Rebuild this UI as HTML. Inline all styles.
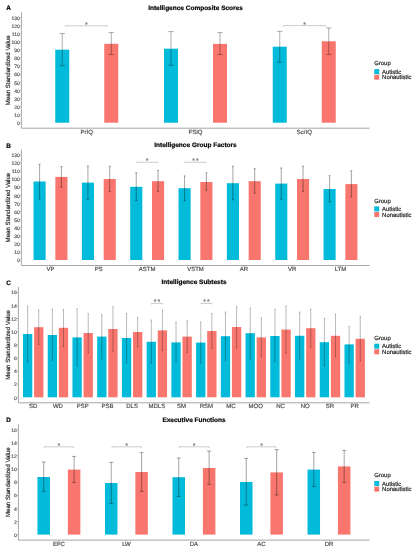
<!DOCTYPE html><html><head><meta charset="utf-8"><style>html,body{margin:0;padding:0;background:#fff;}svg{display:block;will-change:transform;}</style></head><body>
<svg width="414" height="550" viewBox="0 0 414 550" text-rendering="geometricPrecision" font-family='"Liberation Sans", sans-serif'>
<style>text{stroke-width:0.18px;}</style>
<rect width="414" height="550" fill="#fff"/>
<rect x="55.25" y="49.7" width="14" height="73" fill="#02BADA"/>
<rect x="104.25" y="43.8" width="14" height="78.9" fill="#F8766D"/>
<rect x="164" y="48.7" width="14" height="74" fill="#02BADA"/>
<rect x="213" y="43.9" width="14" height="78.8" fill="#F8766D"/>
<rect x="272.75" y="46.7" width="14" height="76" fill="#02BADA"/>
<rect x="321.75" y="41.3" width="14" height="81.4" fill="#F8766D"/>
<path d="M62.25 33.6V65.7M59.55 33.6H64.95M59.55 65.7H64.95" stroke="#000" stroke-opacity="0.4" stroke-width="0.8" fill="none"/>
<path d="M111.25 32.6V54.5M108.55 32.6H113.95M108.55 54.5H113.95" stroke="#000" stroke-opacity="0.4" stroke-width="0.8" fill="none"/>
<path d="M171 31.6V65.3M168.3 31.6H173.7M168.3 65.3H173.7" stroke="#000" stroke-opacity="0.4" stroke-width="0.8" fill="none"/>
<path d="M220 32.6V54.5M217.3 32.6H222.7M217.3 54.5H222.7" stroke="#000" stroke-opacity="0.4" stroke-width="0.8" fill="none"/>
<path d="M279.75 31.3V62.2M277.05 31.3H282.45M277.05 62.2H282.45" stroke="#000" stroke-opacity="0.4" stroke-width="0.8" fill="none"/>
<path d="M328.75 28V54.4M326.05 28H331.45M326.05 54.4H331.45" stroke="#000" stroke-opacity="0.4" stroke-width="0.8" fill="none"/>
<path d="M65.3 26.9V25.8H107.2V26.9" stroke="#a8a8a8" stroke-width="0.6" fill="none"/>
<text x="86.25" y="26.79" font-size="7" fill="#808080" stroke="#808080" text-anchor="middle" letter-spacing="0">*</text>
<path d="M283.3 26.7V25.6H325.8V26.7" stroke="#a8a8a8" stroke-width="0.6" fill="none"/>
<text x="304.55" y="26.59" font-size="7" fill="#808080" stroke="#808080" text-anchor="middle" letter-spacing="0">*</text>
<path d="M21.4 12.3V128.2H369.6" stroke="#A6A6A6" stroke-width="1" fill="none"/>
<path d="M19.6 122.8H21.4" stroke="#A6A6A6" stroke-width="0.6"/>
<text x="19.8" y="125" font-size="5" fill="#5a5a5a" stroke="#5a5a5a" stroke-width="0.08" text-anchor="end">0</text>
<path d="M19.6 114.71H21.4" stroke="#A6A6A6" stroke-width="0.6"/>
<text x="19.8" y="116.91" font-size="5" fill="#5a5a5a" stroke="#5a5a5a" stroke-width="0.08" text-anchor="end">10</text>
<path d="M19.6 106.62H21.4" stroke="#A6A6A6" stroke-width="0.6"/>
<text x="19.8" y="108.82" font-size="5" fill="#5a5a5a" stroke="#5a5a5a" stroke-width="0.08" text-anchor="end">20</text>
<path d="M19.6 98.52H21.4" stroke="#A6A6A6" stroke-width="0.6"/>
<text x="19.8" y="100.72" font-size="5" fill="#5a5a5a" stroke="#5a5a5a" stroke-width="0.08" text-anchor="end">30</text>
<path d="M19.6 90.43H21.4" stroke="#A6A6A6" stroke-width="0.6"/>
<text x="19.8" y="92.63" font-size="5" fill="#5a5a5a" stroke="#5a5a5a" stroke-width="0.08" text-anchor="end">40</text>
<path d="M19.6 82.34H21.4" stroke="#A6A6A6" stroke-width="0.6"/>
<text x="19.8" y="84.54" font-size="5" fill="#5a5a5a" stroke="#5a5a5a" stroke-width="0.08" text-anchor="end">50</text>
<path d="M19.6 74.25H21.4" stroke="#A6A6A6" stroke-width="0.6"/>
<text x="19.8" y="76.45" font-size="5" fill="#5a5a5a" stroke="#5a5a5a" stroke-width="0.08" text-anchor="end">60</text>
<path d="M19.6 66.15H21.4" stroke="#A6A6A6" stroke-width="0.6"/>
<text x="19.8" y="68.35" font-size="5" fill="#5a5a5a" stroke="#5a5a5a" stroke-width="0.08" text-anchor="end">70</text>
<path d="M19.6 58.06H21.4" stroke="#A6A6A6" stroke-width="0.6"/>
<text x="19.8" y="60.26" font-size="5" fill="#5a5a5a" stroke="#5a5a5a" stroke-width="0.08" text-anchor="end">80</text>
<path d="M19.6 49.97H21.4" stroke="#A6A6A6" stroke-width="0.6"/>
<text x="19.8" y="52.17" font-size="5" fill="#5a5a5a" stroke="#5a5a5a" stroke-width="0.08" text-anchor="end">90</text>
<path d="M19.6 41.88H21.4" stroke="#A6A6A6" stroke-width="0.6"/>
<text x="19.8" y="44.08" font-size="5" fill="#5a5a5a" stroke="#5a5a5a" stroke-width="0.08" text-anchor="end">100</text>
<path d="M19.6 33.78H21.4" stroke="#A6A6A6" stroke-width="0.6"/>
<text x="19.8" y="35.98" font-size="5" fill="#5a5a5a" stroke="#5a5a5a" stroke-width="0.08" text-anchor="end">110</text>
<path d="M19.6 25.69H21.4" stroke="#A6A6A6" stroke-width="0.6"/>
<text x="19.8" y="27.89" font-size="5" fill="#5a5a5a" stroke="#5a5a5a" stroke-width="0.08" text-anchor="end">120</text>
<path d="M19.6 17.6H21.4" stroke="#A6A6A6" stroke-width="0.6"/>
<text x="19.8" y="19.8" font-size="5" fill="#5a5a5a" stroke="#5a5a5a" stroke-width="0.08" text-anchor="end">130</text>
<path d="M86.75 128.2V129.7" stroke="#A6A6A6" stroke-width="0.6"/>
<text x="86.75" y="133.7" font-size="6" fill="#4D4D4D" stroke="#4D4D4D" text-anchor="middle">PrIQ</text>
<path d="M195.5 128.2V129.7" stroke="#A6A6A6" stroke-width="0.6"/>
<text x="195.5" y="133.7" font-size="6" fill="#4D4D4D" stroke="#4D4D4D" text-anchor="middle">FSIQ</text>
<path d="M304.25 128.2V129.7" stroke="#A6A6A6" stroke-width="0.6"/>
<text x="304.25" y="133.7" font-size="6" fill="#4D4D4D" stroke="#4D4D4D" text-anchor="middle">ScrIQ</text>
<text transform="translate(9.8 70.3) rotate(-90)" font-size="6.1" fill="#222" stroke="#222" text-anchor="middle">Mean Standardized Value</text>
<text x="6.2" y="10.2" font-size="6.4" font-weight="bold" fill="#000" stroke="#000" stroke-width="0.06">A</text>
<text x="195.5" y="9.6" font-size="6.5" font-weight="bold" fill="#000" stroke="#000" stroke-width="0.06" text-anchor="middle">Intelligence Composite Scores</text>
<text x="374.3" y="65.3" font-size="5.9" fill="#222" stroke="#222">Group</text>
<rect x="374.3" y="69.1" width="4.9" height="5" fill="#02BADA"/>
<rect x="374.3" y="74.7" width="4.9" height="5" fill="#F8766D"/>
<text x="382.1" y="73.6" font-size="5.95" fill="#222" stroke="#222">Autistic</text>
<text x="382.1" y="79.4" font-size="5.95" fill="#222" stroke="#222">Nonautistic</text>
<rect x="33.55" y="181.5" width="12.1" height="78.5" fill="#02BADA"/>
<rect x="55.35" y="176.9" width="12.1" height="83.1" fill="#F8766D"/>
<rect x="81.88" y="182.6" width="12.1" height="77.4" fill="#02BADA"/>
<rect x="103.68" y="179" width="12.1" height="81" fill="#F8766D"/>
<rect x="130.21" y="186.8" width="12.1" height="73.2" fill="#02BADA"/>
<rect x="152.01" y="181.2" width="12.1" height="78.8" fill="#F8766D"/>
<rect x="178.54" y="188.2" width="12.1" height="71.8" fill="#02BADA"/>
<rect x="200.34" y="182" width="12.1" height="78" fill="#F8766D"/>
<rect x="226.87" y="183.2" width="12.1" height="76.8" fill="#02BADA"/>
<rect x="248.67" y="181.2" width="12.1" height="78.8" fill="#F8766D"/>
<rect x="275.2" y="183.6" width="12.1" height="76.4" fill="#02BADA"/>
<rect x="297" y="179" width="12.1" height="81" fill="#F8766D"/>
<rect x="323.53" y="189" width="12.1" height="71" fill="#02BADA"/>
<rect x="345.33" y="184.1" width="12.1" height="75.9" fill="#F8766D"/>
<path d="M39.6 164.2V199M38.6 164.2H40.6M38.6 199H40.6" stroke="#000" stroke-opacity="0.45" stroke-width="0.8" fill="none"/>
<path d="M61.4 166.6V187.2M60.4 166.6H62.4M60.4 187.2H62.4" stroke="#000" stroke-opacity="0.45" stroke-width="0.8" fill="none"/>
<path d="M87.93 166V199.5M86.93 166H88.93M86.93 199.5H88.93" stroke="#000" stroke-opacity="0.45" stroke-width="0.8" fill="none"/>
<path d="M109.73 166.2V191.5M108.73 166.2H110.73M108.73 191.5H110.73" stroke="#000" stroke-opacity="0.45" stroke-width="0.8" fill="none"/>
<path d="M136.26 172.8V200.6M135.26 172.8H137.26M135.26 200.6H137.26" stroke="#000" stroke-opacity="0.45" stroke-width="0.8" fill="none"/>
<path d="M158.06 170.4V191.4M157.06 170.4H159.06M157.06 191.4H159.06" stroke="#000" stroke-opacity="0.45" stroke-width="0.8" fill="none"/>
<path d="M184.59 175.9V200.6M183.59 175.9H185.59M183.59 200.6H185.59" stroke="#000" stroke-opacity="0.45" stroke-width="0.8" fill="none"/>
<path d="M206.39 172.8V190.2M205.39 172.8H207.39M205.39 190.2H207.39" stroke="#000" stroke-opacity="0.45" stroke-width="0.8" fill="none"/>
<path d="M232.92 166.3V199.8M231.92 166.3H233.92M231.92 199.8H233.92" stroke="#000" stroke-opacity="0.45" stroke-width="0.8" fill="none"/>
<path d="M254.72 168.7V193.3M253.72 168.7H255.72M253.72 193.3H255.72" stroke="#000" stroke-opacity="0.45" stroke-width="0.8" fill="none"/>
<path d="M281.25 168V199.3M280.25 168H282.25M280.25 199.3H282.25" stroke="#000" stroke-opacity="0.45" stroke-width="0.8" fill="none"/>
<path d="M303.05 166.3V191.4M302.05 166.3H304.05M302.05 191.4H304.05" stroke="#000" stroke-opacity="0.45" stroke-width="0.8" fill="none"/>
<path d="M329.58 175.7V201.8M328.58 175.7H330.58M328.58 201.8H330.58" stroke="#000" stroke-opacity="0.45" stroke-width="0.8" fill="none"/>
<path d="M351.38 170.8V196.9M350.38 170.8H352.38M350.38 196.9H352.38" stroke="#000" stroke-opacity="0.45" stroke-width="0.8" fill="none"/>
<path d="M136.4 163.3V162.2H157.9V163.3" stroke="#a8a8a8" stroke-width="0.6" fill="none"/>
<text x="147.15" y="163.19" font-size="7" fill="#808080" stroke="#808080" text-anchor="middle" letter-spacing="0">*</text>
<path d="M184.7 163.3V162.2H206.2V163.3" stroke="#a8a8a8" stroke-width="0.6" fill="none"/>
<text x="195.95" y="163.19" font-size="7" fill="#808080" stroke="#808080" text-anchor="middle" letter-spacing="1">**</text>
<path d="M21.4 149.6V265.5H369.6" stroke="#A6A6A6" stroke-width="1" fill="none"/>
<path d="M19.6 260.1H21.4" stroke="#A6A6A6" stroke-width="0.6"/>
<text x="19.8" y="262.3" font-size="5" fill="#5a5a5a" stroke="#5a5a5a" stroke-width="0.08" text-anchor="end">0</text>
<path d="M19.6 252.01H21.4" stroke="#A6A6A6" stroke-width="0.6"/>
<text x="19.8" y="254.21" font-size="5" fill="#5a5a5a" stroke="#5a5a5a" stroke-width="0.08" text-anchor="end">10</text>
<path d="M19.6 243.92H21.4" stroke="#A6A6A6" stroke-width="0.6"/>
<text x="19.8" y="246.12" font-size="5" fill="#5a5a5a" stroke="#5a5a5a" stroke-width="0.08" text-anchor="end">20</text>
<path d="M19.6 235.82H21.4" stroke="#A6A6A6" stroke-width="0.6"/>
<text x="19.8" y="238.02" font-size="5" fill="#5a5a5a" stroke="#5a5a5a" stroke-width="0.08" text-anchor="end">30</text>
<path d="M19.6 227.73H21.4" stroke="#A6A6A6" stroke-width="0.6"/>
<text x="19.8" y="229.93" font-size="5" fill="#5a5a5a" stroke="#5a5a5a" stroke-width="0.08" text-anchor="end">40</text>
<path d="M19.6 219.64H21.4" stroke="#A6A6A6" stroke-width="0.6"/>
<text x="19.8" y="221.84" font-size="5" fill="#5a5a5a" stroke="#5a5a5a" stroke-width="0.08" text-anchor="end">50</text>
<path d="M19.6 211.55H21.4" stroke="#A6A6A6" stroke-width="0.6"/>
<text x="19.8" y="213.75" font-size="5" fill="#5a5a5a" stroke="#5a5a5a" stroke-width="0.08" text-anchor="end">60</text>
<path d="M19.6 203.45H21.4" stroke="#A6A6A6" stroke-width="0.6"/>
<text x="19.8" y="205.65" font-size="5" fill="#5a5a5a" stroke="#5a5a5a" stroke-width="0.08" text-anchor="end">70</text>
<path d="M19.6 195.36H21.4" stroke="#A6A6A6" stroke-width="0.6"/>
<text x="19.8" y="197.56" font-size="5" fill="#5a5a5a" stroke="#5a5a5a" stroke-width="0.08" text-anchor="end">80</text>
<path d="M19.6 187.27H21.4" stroke="#A6A6A6" stroke-width="0.6"/>
<text x="19.8" y="189.47" font-size="5" fill="#5a5a5a" stroke="#5a5a5a" stroke-width="0.08" text-anchor="end">90</text>
<path d="M19.6 179.18H21.4" stroke="#A6A6A6" stroke-width="0.6"/>
<text x="19.8" y="181.38" font-size="5" fill="#5a5a5a" stroke="#5a5a5a" stroke-width="0.08" text-anchor="end">100</text>
<path d="M19.6 171.08H21.4" stroke="#A6A6A6" stroke-width="0.6"/>
<text x="19.8" y="173.28" font-size="5" fill="#5a5a5a" stroke="#5a5a5a" stroke-width="0.08" text-anchor="end">110</text>
<path d="M19.6 162.99H21.4" stroke="#A6A6A6" stroke-width="0.6"/>
<text x="19.8" y="165.19" font-size="5" fill="#5a5a5a" stroke="#5a5a5a" stroke-width="0.08" text-anchor="end">120</text>
<path d="M19.6 154.9H21.4" stroke="#A6A6A6" stroke-width="0.6"/>
<text x="19.8" y="157.1" font-size="5" fill="#5a5a5a" stroke="#5a5a5a" stroke-width="0.08" text-anchor="end">130</text>
<path d="M50.5 265.5V267" stroke="#A6A6A6" stroke-width="0.6"/>
<text x="50.5" y="271" font-size="6" fill="#4D4D4D" stroke="#4D4D4D" text-anchor="middle">VP</text>
<path d="M98.83 265.5V267" stroke="#A6A6A6" stroke-width="0.6"/>
<text x="98.83" y="271" font-size="6" fill="#4D4D4D" stroke="#4D4D4D" text-anchor="middle">PS</text>
<path d="M147.16 265.5V267" stroke="#A6A6A6" stroke-width="0.6"/>
<text x="147.16" y="271" font-size="6" fill="#4D4D4D" stroke="#4D4D4D" text-anchor="middle">ASTM</text>
<path d="M195.49 265.5V267" stroke="#A6A6A6" stroke-width="0.6"/>
<text x="195.49" y="271" font-size="6" fill="#4D4D4D" stroke="#4D4D4D" text-anchor="middle">VSTM</text>
<path d="M243.82 265.5V267" stroke="#A6A6A6" stroke-width="0.6"/>
<text x="243.82" y="271" font-size="6" fill="#4D4D4D" stroke="#4D4D4D" text-anchor="middle">AR</text>
<path d="M292.15 265.5V267" stroke="#A6A6A6" stroke-width="0.6"/>
<text x="292.15" y="271" font-size="6" fill="#4D4D4D" stroke="#4D4D4D" text-anchor="middle">VR</text>
<path d="M340.48 265.5V267" stroke="#A6A6A6" stroke-width="0.6"/>
<text x="340.48" y="271" font-size="6" fill="#4D4D4D" stroke="#4D4D4D" text-anchor="middle">LTM</text>
<text transform="translate(9.8 207.6) rotate(-90)" font-size="6.1" fill="#222" stroke="#222" text-anchor="middle">Mean Standardized Value</text>
<text x="6.2" y="147.5" font-size="6.4" font-weight="bold" fill="#000" stroke="#000" stroke-width="0.06">B</text>
<text x="195.5" y="146.9" font-size="6.5" font-weight="bold" fill="#000" stroke="#000" stroke-width="0.06" text-anchor="middle">Intelligence Group Factors</text>
<text x="374.3" y="202.6" font-size="5.9" fill="#222" stroke="#222">Group</text>
<rect x="374.3" y="206.4" width="4.9" height="5" fill="#02BADA"/>
<rect x="374.3" y="212" width="4.9" height="5" fill="#F8766D"/>
<text x="382.1" y="210.9" font-size="5.95" fill="#222" stroke="#222">Autistic</text>
<text x="382.1" y="216.7" font-size="5.95" fill="#222" stroke="#222">Nonautistic</text>
<rect x="22.99" y="334" width="9.3" height="63.3" fill="#02BADA"/>
<rect x="34.11" y="327.2" width="9.3" height="70.1" fill="#F8766D"/>
<rect x="47.72" y="335" width="9.3" height="62.3" fill="#02BADA"/>
<rect x="58.84" y="327.8" width="9.3" height="69.5" fill="#F8766D"/>
<rect x="72.45" y="337.4" width="9.3" height="59.9" fill="#02BADA"/>
<rect x="83.57" y="333" width="9.3" height="64.3" fill="#F8766D"/>
<rect x="97.18" y="336.6" width="9.3" height="60.7" fill="#02BADA"/>
<rect x="108.3" y="329" width="9.3" height="68.3" fill="#F8766D"/>
<rect x="121.91" y="338" width="9.3" height="59.3" fill="#02BADA"/>
<rect x="133.03" y="332" width="9.3" height="65.3" fill="#F8766D"/>
<rect x="146.64" y="341.8" width="9.3" height="55.5" fill="#02BADA"/>
<rect x="157.76" y="330.4" width="9.3" height="66.9" fill="#F8766D"/>
<rect x="171.37" y="342.4" width="9.3" height="54.9" fill="#02BADA"/>
<rect x="182.49" y="336.6" width="9.3" height="60.7" fill="#F8766D"/>
<rect x="196.1" y="342.6" width="9.3" height="54.7" fill="#02BADA"/>
<rect x="207.22" y="331" width="9.3" height="66.3" fill="#F8766D"/>
<rect x="220.83" y="336.2" width="9.3" height="61.1" fill="#02BADA"/>
<rect x="231.95" y="327" width="9.3" height="70.3" fill="#F8766D"/>
<rect x="245.56" y="333.2" width="9.3" height="64.1" fill="#02BADA"/>
<rect x="256.68" y="337.4" width="9.3" height="59.9" fill="#F8766D"/>
<rect x="270.29" y="336" width="9.3" height="61.3" fill="#02BADA"/>
<rect x="281.41" y="329.6" width="9.3" height="67.7" fill="#F8766D"/>
<rect x="295.02" y="335.8" width="9.3" height="61.5" fill="#02BADA"/>
<rect x="306.14" y="328.2" width="9.3" height="69.1" fill="#F8766D"/>
<rect x="319.75" y="342.2" width="9.3" height="55.1" fill="#02BADA"/>
<rect x="330.87" y="335.8" width="9.3" height="61.5" fill="#F8766D"/>
<rect x="344.48" y="344.4" width="9.3" height="52.9" fill="#02BADA"/>
<rect x="355.6" y="338.8" width="9.3" height="58.5" fill="#F8766D"/>
<path d="M27.64 306V362.4M27.04 306H28.24M27.04 362.4H28.24" stroke="#000" stroke-opacity="0.35" stroke-width="0.8" fill="none"/>
<path d="M38.76 310V344.6M38.16 310H39.36M38.16 344.6H39.36" stroke="#000" stroke-opacity="0.35" stroke-width="0.8" fill="none"/>
<path d="M52.37 309V360.4M51.77 309H52.97M51.77 360.4H52.97" stroke="#000" stroke-opacity="0.35" stroke-width="0.8" fill="none"/>
<path d="M63.49 309.4V346.6M62.89 309.4H64.09M62.89 346.6H64.09" stroke="#000" stroke-opacity="0.35" stroke-width="0.8" fill="none"/>
<path d="M77.1 308.6V366M76.5 308.6H77.7M76.5 366H77.7" stroke="#000" stroke-opacity="0.35" stroke-width="0.8" fill="none"/>
<path d="M88.22 313.6V353M87.62 313.6H88.82M87.62 353H88.82" stroke="#000" stroke-opacity="0.35" stroke-width="0.8" fill="none"/>
<path d="M101.83 314.4V358.6M101.23 314.4H102.43M101.23 358.6H102.43" stroke="#000" stroke-opacity="0.35" stroke-width="0.8" fill="none"/>
<path d="M112.95 306.4V351.6M112.35 306.4H113.55M112.35 351.6H113.55" stroke="#000" stroke-opacity="0.35" stroke-width="0.8" fill="none"/>
<path d="M126.56 313.6V362.6M125.96 313.6H127.16M125.96 362.6H127.16" stroke="#000" stroke-opacity="0.35" stroke-width="0.8" fill="none"/>
<path d="M137.68 317.4V346.6M137.08 317.4H138.28M137.08 346.6H138.28" stroke="#000" stroke-opacity="0.35" stroke-width="0.8" fill="none"/>
<path d="M151.29 320V363.2M150.69 320H151.89M150.69 363.2H151.89" stroke="#000" stroke-opacity="0.35" stroke-width="0.8" fill="none"/>
<path d="M162.41 310V350.4M161.81 310H163.01M161.81 350.4H163.01" stroke="#000" stroke-opacity="0.35" stroke-width="0.8" fill="none"/>
<path d="M176.02 322V362M175.42 322H176.62M175.42 362H176.62" stroke="#000" stroke-opacity="0.35" stroke-width="0.8" fill="none"/>
<path d="M187.14 320.6V352.6M186.54 320.6H187.74M186.54 352.6H187.74" stroke="#000" stroke-opacity="0.35" stroke-width="0.8" fill="none"/>
<path d="M200.75 322V363M200.15 322H201.35M200.15 363H201.35" stroke="#000" stroke-opacity="0.35" stroke-width="0.8" fill="none"/>
<path d="M211.87 313.4V348.6M211.27 313.4H212.47M211.27 348.6H212.47" stroke="#000" stroke-opacity="0.35" stroke-width="0.8" fill="none"/>
<path d="M225.48 312V360.6M224.88 312H226.08M224.88 360.6H226.08" stroke="#000" stroke-opacity="0.35" stroke-width="0.8" fill="none"/>
<path d="M236.6 306.4V348M236 306.4H237.2M236 348H237.2" stroke="#000" stroke-opacity="0.35" stroke-width="0.8" fill="none"/>
<path d="M250.21 308V359.4M249.61 308H250.81M249.61 359.4H250.81" stroke="#000" stroke-opacity="0.35" stroke-width="0.8" fill="none"/>
<path d="M261.33 317.6V357M260.73 317.6H261.93M260.73 357H261.93" stroke="#000" stroke-opacity="0.35" stroke-width="0.8" fill="none"/>
<path d="M274.94 309.4V361.6M274.34 309.4H275.54M274.34 361.6H275.54" stroke="#000" stroke-opacity="0.35" stroke-width="0.8" fill="none"/>
<path d="M286.06 306V353M285.46 306H286.66M285.46 353H286.66" stroke="#000" stroke-opacity="0.35" stroke-width="0.8" fill="none"/>
<path d="M299.67 312V359M299.07 312H300.27M299.07 359H300.27" stroke="#000" stroke-opacity="0.35" stroke-width="0.8" fill="none"/>
<path d="M310.79 309V347.6M310.19 309H311.39M310.19 347.6H311.39" stroke="#000" stroke-opacity="0.35" stroke-width="0.8" fill="none"/>
<path d="M324.4 318.4V366.2M323.8 318.4H325M323.8 366.2H325" stroke="#000" stroke-opacity="0.35" stroke-width="0.8" fill="none"/>
<path d="M335.52 314V356.6M334.92 314H336.12M334.92 356.6H336.12" stroke="#000" stroke-opacity="0.35" stroke-width="0.8" fill="none"/>
<path d="M349.13 326.4V363M348.53 326.4H349.73M348.53 363H349.73" stroke="#000" stroke-opacity="0.35" stroke-width="0.8" fill="none"/>
<path d="M360.25 316.4V361M359.65 316.4H360.85M359.65 361H360.85" stroke="#000" stroke-opacity="0.35" stroke-width="0.8" fill="none"/>
<path d="M151.4 304.5V303.4H162.6V304.5" stroke="#a8a8a8" stroke-width="0.6" fill="none"/>
<text x="157.5" y="304.39" font-size="7" fill="#808080" stroke="#808080" text-anchor="middle" letter-spacing="1">**</text>
<path d="M201 304.5V303.4H212V304.5" stroke="#a8a8a8" stroke-width="0.6" fill="none"/>
<text x="207" y="304.39" font-size="7" fill="#808080" stroke="#808080" text-anchor="middle" letter-spacing="1">**</text>
<path d="M18.4 286.9V402.8H369.6" stroke="#A6A6A6" stroke-width="1" fill="none"/>
<path d="M16.6 397.4H18.4" stroke="#A6A6A6" stroke-width="0.6"/>
<text x="16.8" y="399.6" font-size="5" fill="#5a5a5a" stroke="#5a5a5a" stroke-width="0.08" text-anchor="end">0</text>
<path d="M16.6 384.25H18.4" stroke="#A6A6A6" stroke-width="0.6"/>
<text x="16.8" y="386.45" font-size="5" fill="#5a5a5a" stroke="#5a5a5a" stroke-width="0.08" text-anchor="end">2</text>
<path d="M16.6 371.1H18.4" stroke="#A6A6A6" stroke-width="0.6"/>
<text x="16.8" y="373.3" font-size="5" fill="#5a5a5a" stroke="#5a5a5a" stroke-width="0.08" text-anchor="end">4</text>
<path d="M16.6 357.95H18.4" stroke="#A6A6A6" stroke-width="0.6"/>
<text x="16.8" y="360.15" font-size="5" fill="#5a5a5a" stroke="#5a5a5a" stroke-width="0.08" text-anchor="end">6</text>
<path d="M16.6 344.8H18.4" stroke="#A6A6A6" stroke-width="0.6"/>
<text x="16.8" y="347" font-size="5" fill="#5a5a5a" stroke="#5a5a5a" stroke-width="0.08" text-anchor="end">8</text>
<path d="M16.6 331.65H18.4" stroke="#A6A6A6" stroke-width="0.6"/>
<text x="16.8" y="333.85" font-size="5" fill="#5a5a5a" stroke="#5a5a5a" stroke-width="0.08" text-anchor="end">10</text>
<path d="M16.6 318.5H18.4" stroke="#A6A6A6" stroke-width="0.6"/>
<text x="16.8" y="320.7" font-size="5" fill="#5a5a5a" stroke="#5a5a5a" stroke-width="0.08" text-anchor="end">12</text>
<path d="M16.6 305.35H18.4" stroke="#A6A6A6" stroke-width="0.6"/>
<text x="16.8" y="307.55" font-size="5" fill="#5a5a5a" stroke="#5a5a5a" stroke-width="0.08" text-anchor="end">14</text>
<path d="M16.6 292.2H18.4" stroke="#A6A6A6" stroke-width="0.6"/>
<text x="16.8" y="294.4" font-size="5" fill="#5a5a5a" stroke="#5a5a5a" stroke-width="0.08" text-anchor="end">16</text>
<path d="M33.2 402.8V404.3" stroke="#A6A6A6" stroke-width="0.6"/>
<text x="33.2" y="408.3" font-size="6" fill="#4D4D4D" stroke="#4D4D4D" text-anchor="middle">SD</text>
<path d="M57.93 402.8V404.3" stroke="#A6A6A6" stroke-width="0.6"/>
<text x="57.93" y="408.3" font-size="6" fill="#4D4D4D" stroke="#4D4D4D" text-anchor="middle">WD</text>
<path d="M82.66 402.8V404.3" stroke="#A6A6A6" stroke-width="0.6"/>
<text x="82.66" y="408.3" font-size="6" fill="#4D4D4D" stroke="#4D4D4D" text-anchor="middle">PSP</text>
<path d="M107.39 402.8V404.3" stroke="#A6A6A6" stroke-width="0.6"/>
<text x="107.39" y="408.3" font-size="6" fill="#4D4D4D" stroke="#4D4D4D" text-anchor="middle">PSB</text>
<path d="M132.12 402.8V404.3" stroke="#A6A6A6" stroke-width="0.6"/>
<text x="132.12" y="408.3" font-size="6" fill="#4D4D4D" stroke="#4D4D4D" text-anchor="middle">DLS</text>
<path d="M156.85 402.8V404.3" stroke="#A6A6A6" stroke-width="0.6"/>
<text x="156.85" y="408.3" font-size="6" fill="#4D4D4D" stroke="#4D4D4D" text-anchor="middle">MDLS</text>
<path d="M181.58 402.8V404.3" stroke="#A6A6A6" stroke-width="0.6"/>
<text x="181.58" y="408.3" font-size="6" fill="#4D4D4D" stroke="#4D4D4D" text-anchor="middle">SM</text>
<path d="M206.31 402.8V404.3" stroke="#A6A6A6" stroke-width="0.6"/>
<text x="206.31" y="408.3" font-size="6" fill="#4D4D4D" stroke="#4D4D4D" text-anchor="middle">RSM</text>
<path d="M231.04 402.8V404.3" stroke="#A6A6A6" stroke-width="0.6"/>
<text x="231.04" y="408.3" font-size="6" fill="#4D4D4D" stroke="#4D4D4D" text-anchor="middle">MC</text>
<path d="M255.77 402.8V404.3" stroke="#A6A6A6" stroke-width="0.6"/>
<text x="255.77" y="408.3" font-size="6" fill="#4D4D4D" stroke="#4D4D4D" text-anchor="middle">MOO</text>
<path d="M280.5 402.8V404.3" stroke="#A6A6A6" stroke-width="0.6"/>
<text x="280.5" y="408.3" font-size="6" fill="#4D4D4D" stroke="#4D4D4D" text-anchor="middle">NC</text>
<path d="M305.23 402.8V404.3" stroke="#A6A6A6" stroke-width="0.6"/>
<text x="305.23" y="408.3" font-size="6" fill="#4D4D4D" stroke="#4D4D4D" text-anchor="middle">NO</text>
<path d="M329.96 402.8V404.3" stroke="#A6A6A6" stroke-width="0.6"/>
<text x="329.96" y="408.3" font-size="6" fill="#4D4D4D" stroke="#4D4D4D" text-anchor="middle">SR</text>
<path d="M354.69 402.8V404.3" stroke="#A6A6A6" stroke-width="0.6"/>
<text x="354.69" y="408.3" font-size="6" fill="#4D4D4D" stroke="#4D4D4D" text-anchor="middle">PR</text>
<text transform="translate(9.8 344.9) rotate(-90)" font-size="6.1" fill="#222" stroke="#222" text-anchor="middle">Mean Standardized Value</text>
<text x="6.2" y="284.8" font-size="6.4" font-weight="bold" fill="#000" stroke="#000" stroke-width="0.06">C</text>
<text x="194" y="284.2" font-size="6.5" font-weight="bold" fill="#000" stroke="#000" stroke-width="0.06" text-anchor="middle">Intelligence Subtests</text>
<text x="374.3" y="339.9" font-size="5.9" fill="#222" stroke="#222">Group</text>
<rect x="374.3" y="343.7" width="4.9" height="5" fill="#02BADA"/>
<rect x="374.3" y="349.3" width="4.9" height="5" fill="#F8766D"/>
<text x="382.1" y="348.2" font-size="5.95" fill="#222" stroke="#222">Autistic</text>
<text x="382.1" y="354" font-size="5.95" fill="#222" stroke="#222">Nonautistic</text>
<rect x="37.45" y="477" width="12.5" height="57.6" fill="#02BADA"/>
<rect x="67.85" y="469.6" width="12.5" height="65" fill="#F8766D"/>
<rect x="104.97" y="483" width="12.5" height="51.6" fill="#02BADA"/>
<rect x="135.37" y="472" width="12.5" height="62.6" fill="#F8766D"/>
<rect x="172.49" y="477.2" width="12.5" height="57.4" fill="#02BADA"/>
<rect x="202.89" y="468" width="12.5" height="66.6" fill="#F8766D"/>
<rect x="240.01" y="482" width="12.5" height="52.6" fill="#02BADA"/>
<rect x="270.41" y="472.4" width="12.5" height="62.2" fill="#F8766D"/>
<rect x="307.53" y="469.6" width="12.5" height="65" fill="#02BADA"/>
<rect x="337.93" y="466.4" width="12.5" height="68.2" fill="#F8766D"/>
<path d="M43.7 462V491.4M41.7 462H45.7M41.7 491.4H45.7" stroke="#000" stroke-opacity="0.45" stroke-width="0.8" fill="none"/>
<path d="M74.1 456.4V482.4M72.1 456.4H76.1M72.1 482.4H76.1" stroke="#000" stroke-opacity="0.45" stroke-width="0.8" fill="none"/>
<path d="M111.22 462.4V503.4M109.22 462.4H113.22M109.22 503.4H113.22" stroke="#000" stroke-opacity="0.45" stroke-width="0.8" fill="none"/>
<path d="M141.62 452.6V491.4M139.62 452.6H143.62M139.62 491.4H143.62" stroke="#000" stroke-opacity="0.45" stroke-width="0.8" fill="none"/>
<path d="M178.74 458V496.4M176.74 458H180.74M176.74 496.4H180.74" stroke="#000" stroke-opacity="0.45" stroke-width="0.8" fill="none"/>
<path d="M209.14 451V484.4M207.14 451H211.14M207.14 484.4H211.14" stroke="#000" stroke-opacity="0.45" stroke-width="0.8" fill="none"/>
<path d="M246.26 458.4V505M244.26 458.4H248.26M244.26 505H248.26" stroke="#000" stroke-opacity="0.45" stroke-width="0.8" fill="none"/>
<path d="M276.66 449.6V495M274.66 449.6H278.66M274.66 495H278.66" stroke="#000" stroke-opacity="0.45" stroke-width="0.8" fill="none"/>
<path d="M313.78 452.4V486.6M311.78 452.4H315.78M311.78 486.6H315.78" stroke="#000" stroke-opacity="0.45" stroke-width="0.8" fill="none"/>
<path d="M344.18 450.4V482.4M342.18 450.4H346.18M342.18 482.4H346.18" stroke="#000" stroke-opacity="0.45" stroke-width="0.8" fill="none"/>
<path d="M44 447.9V446.8H73.6V447.9" stroke="#a8a8a8" stroke-width="0.6" fill="none"/>
<text x="58.8" y="447.79" font-size="7" fill="#808080" stroke="#808080" text-anchor="middle" letter-spacing="0">*</text>
<path d="M112 447.9V446.8H141.4V447.9" stroke="#a8a8a8" stroke-width="0.6" fill="none"/>
<text x="126.7" y="447.79" font-size="7" fill="#808080" stroke="#808080" text-anchor="middle" letter-spacing="0">*</text>
<path d="M179.4 447.9V446.8H209V447.9" stroke="#a8a8a8" stroke-width="0.6" fill="none"/>
<text x="194.2" y="447.79" font-size="7" fill="#808080" stroke="#808080" text-anchor="middle" letter-spacing="0">*</text>
<path d="M247 447.9V446.8H276V447.9" stroke="#a8a8a8" stroke-width="0.6" fill="none"/>
<text x="261.5" y="447.79" font-size="7" fill="#808080" stroke="#808080" text-anchor="middle" letter-spacing="0">*</text>
<path d="M18.4 424.2V540.1H369.6" stroke="#A6A6A6" stroke-width="1" fill="none"/>
<path d="M16.6 534.7H18.4" stroke="#A6A6A6" stroke-width="0.6"/>
<text x="16.8" y="536.9" font-size="5" fill="#5a5a5a" stroke="#5a5a5a" stroke-width="0.08" text-anchor="end">0</text>
<path d="M16.6 521.55H18.4" stroke="#A6A6A6" stroke-width="0.6"/>
<text x="16.8" y="523.75" font-size="5" fill="#5a5a5a" stroke="#5a5a5a" stroke-width="0.08" text-anchor="end">2</text>
<path d="M16.6 508.4H18.4" stroke="#A6A6A6" stroke-width="0.6"/>
<text x="16.8" y="510.6" font-size="5" fill="#5a5a5a" stroke="#5a5a5a" stroke-width="0.08" text-anchor="end">4</text>
<path d="M16.6 495.25H18.4" stroke="#A6A6A6" stroke-width="0.6"/>
<text x="16.8" y="497.45" font-size="5" fill="#5a5a5a" stroke="#5a5a5a" stroke-width="0.08" text-anchor="end">6</text>
<path d="M16.6 482.1H18.4" stroke="#A6A6A6" stroke-width="0.6"/>
<text x="16.8" y="484.3" font-size="5" fill="#5a5a5a" stroke="#5a5a5a" stroke-width="0.08" text-anchor="end">8</text>
<path d="M16.6 468.95H18.4" stroke="#A6A6A6" stroke-width="0.6"/>
<text x="16.8" y="471.15" font-size="5" fill="#5a5a5a" stroke="#5a5a5a" stroke-width="0.08" text-anchor="end">10</text>
<path d="M16.6 455.8H18.4" stroke="#A6A6A6" stroke-width="0.6"/>
<text x="16.8" y="458" font-size="5" fill="#5a5a5a" stroke="#5a5a5a" stroke-width="0.08" text-anchor="end">12</text>
<path d="M16.6 442.65H18.4" stroke="#A6A6A6" stroke-width="0.6"/>
<text x="16.8" y="444.85" font-size="5" fill="#5a5a5a" stroke="#5a5a5a" stroke-width="0.08" text-anchor="end">14</text>
<path d="M16.6 429.5H18.4" stroke="#A6A6A6" stroke-width="0.6"/>
<text x="16.8" y="431.7" font-size="5" fill="#5a5a5a" stroke="#5a5a5a" stroke-width="0.08" text-anchor="end">16</text>
<path d="M58.9 540.1V541.6" stroke="#A6A6A6" stroke-width="0.6"/>
<text x="58.9" y="545.6" font-size="6" fill="#4D4D4D" stroke="#4D4D4D" text-anchor="middle">EFC</text>
<path d="M126.42 540.1V541.6" stroke="#A6A6A6" stroke-width="0.6"/>
<text x="126.42" y="545.6" font-size="6" fill="#4D4D4D" stroke="#4D4D4D" text-anchor="middle">LW</text>
<path d="M193.94 540.1V541.6" stroke="#A6A6A6" stroke-width="0.6"/>
<text x="193.94" y="545.6" font-size="6" fill="#4D4D4D" stroke="#4D4D4D" text-anchor="middle">DA</text>
<path d="M261.46 540.1V541.6" stroke="#A6A6A6" stroke-width="0.6"/>
<text x="261.46" y="545.6" font-size="6" fill="#4D4D4D" stroke="#4D4D4D" text-anchor="middle">AC</text>
<path d="M328.98 540.1V541.6" stroke="#A6A6A6" stroke-width="0.6"/>
<text x="328.98" y="545.6" font-size="6" fill="#4D4D4D" stroke="#4D4D4D" text-anchor="middle">DR</text>
<text transform="translate(9.8 482.2) rotate(-90)" font-size="6.1" fill="#222" stroke="#222" text-anchor="middle">Mean Standardized Value</text>
<text x="6.2" y="422.1" font-size="6.4" font-weight="bold" fill="#000" stroke="#000" stroke-width="0.06">D</text>
<text x="194" y="421.5" font-size="6.5" font-weight="bold" fill="#000" stroke="#000" stroke-width="0.06" text-anchor="middle">Executive Functions</text>
<text x="374.3" y="477.2" font-size="5.9" fill="#222" stroke="#222">Group</text>
<rect x="374.3" y="481" width="4.9" height="5" fill="#02BADA"/>
<rect x="374.3" y="486.6" width="4.9" height="5" fill="#F8766D"/>
<text x="382.1" y="485.5" font-size="5.95" fill="#222" stroke="#222">Autistic</text>
<text x="382.1" y="491.3" font-size="5.95" fill="#222" stroke="#222">Nonautistic</text>
</svg></body></html>
